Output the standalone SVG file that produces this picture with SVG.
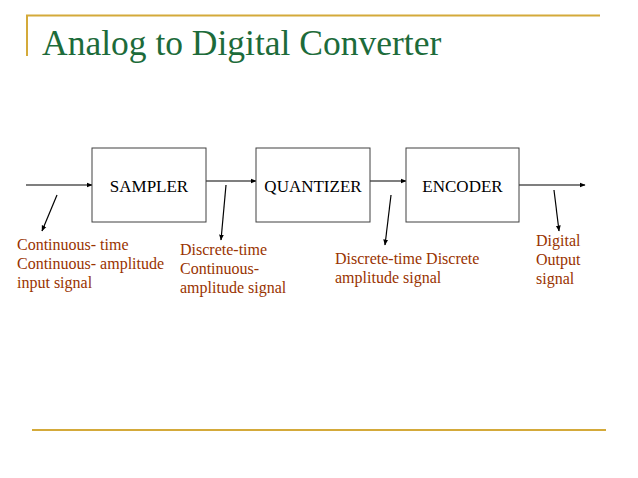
<svg xmlns="http://www.w3.org/2000/svg" width="638" height="478" viewBox="0 0 638 478">
<style>
.deco{stroke:#d4aa3a;stroke-width:2;fill:none}
.box{fill:#fff;stroke:#404040;stroke-width:1}
.blk{font-family:"Liberation Serif",serif;font-size:17px;fill:#000;text-anchor:middle}
.lbl{font-family:"Liberation Serif",serif;font-size:16px;fill:#993300}
.ttl{font-family:"Liberation Serif",serif;font-size:35.5px;fill:#1d6b3a}
.ln{stroke:#000;stroke-width:1.2;fill:none;marker-end:url(#ah)}
</style>
<defs>
<marker id="ah" viewBox="0 0 10 10" refX="9" refY="5" markerWidth="6" markerHeight="6" markerUnits="userSpaceOnUse" orient="auto">
<path d="M0,1 L10,5 L0,9 z" fill="#000"/>
</marker>
</defs>
<rect width="638" height="478" fill="#fff"/>
<g id="decoration">
<line class="deco" x1="26" y1="15.5" x2="600" y2="15.5"/>
<line class="deco" x1="27" y1="15" x2="27" y2="56"/>
<line class="deco" x1="32" y1="430" x2="606" y2="430"/>
</g>
<text class="ttl" x="42" y="55">Analog to Digital Converter</text>
<g id="connectors">
<line class="ln" x1="26" y1="185" x2="92" y2="185"/>
<line class="ln" x1="206" y1="181" x2="256" y2="181"/>
<line class="ln" x1="370" y1="181" x2="406" y2="181"/>
<line class="ln" x1="519" y1="185" x2="585" y2="185"/>
<line class="ln" x1="57" y1="195" x2="42" y2="231"/>
<line class="ln" x1="226" y1="185" x2="221" y2="240"/>
<line class="ln" x1="391" y1="195" x2="385" y2="245"/>
<line class="ln" x1="554" y1="190" x2="559" y2="231"/>
</g>
<g id="sampler">
<rect class="box" x="92" y="148" width="114" height="74"/>
<text class="blk" x="149" y="192">SAMPLER</text>
</g>
<g id="quantizer">
<rect class="box" x="256" y="148" width="114" height="74"/>
<text class="blk" x="313" y="192">QUANTIZER</text>
</g>
<g id="encoder">
<rect class="box" x="406" y="148" width="113" height="74"/>
<text class="blk" x="462.5" y="192">ENCODER</text>
</g>
<g id="label-input">
<text class="lbl" x="17" y="250">Continuous- time</text>
<text class="lbl" x="17" y="269">Continuous- amplitude</text>
<text class="lbl" x="17" y="288">input signal</text>
</g>
<g id="label-sampled">
<text class="lbl" x="180" y="255">Discrete-time</text>
<text class="lbl" x="180" y="274">Continuous-</text>
<text class="lbl" x="180" y="293">amplitude signal</text>
</g>
<g id="label-quantized">
<text class="lbl" x="335" y="264">Discrete-time Discrete</text>
<text class="lbl" x="335" y="283">amplitude signal</text>
</g>
<g id="label-output">
<text class="lbl" x="536" y="246">Digital</text>
<text class="lbl" x="536" y="265">Output</text>
<text class="lbl" x="536" y="284">signal</text>
</g>
</svg>
